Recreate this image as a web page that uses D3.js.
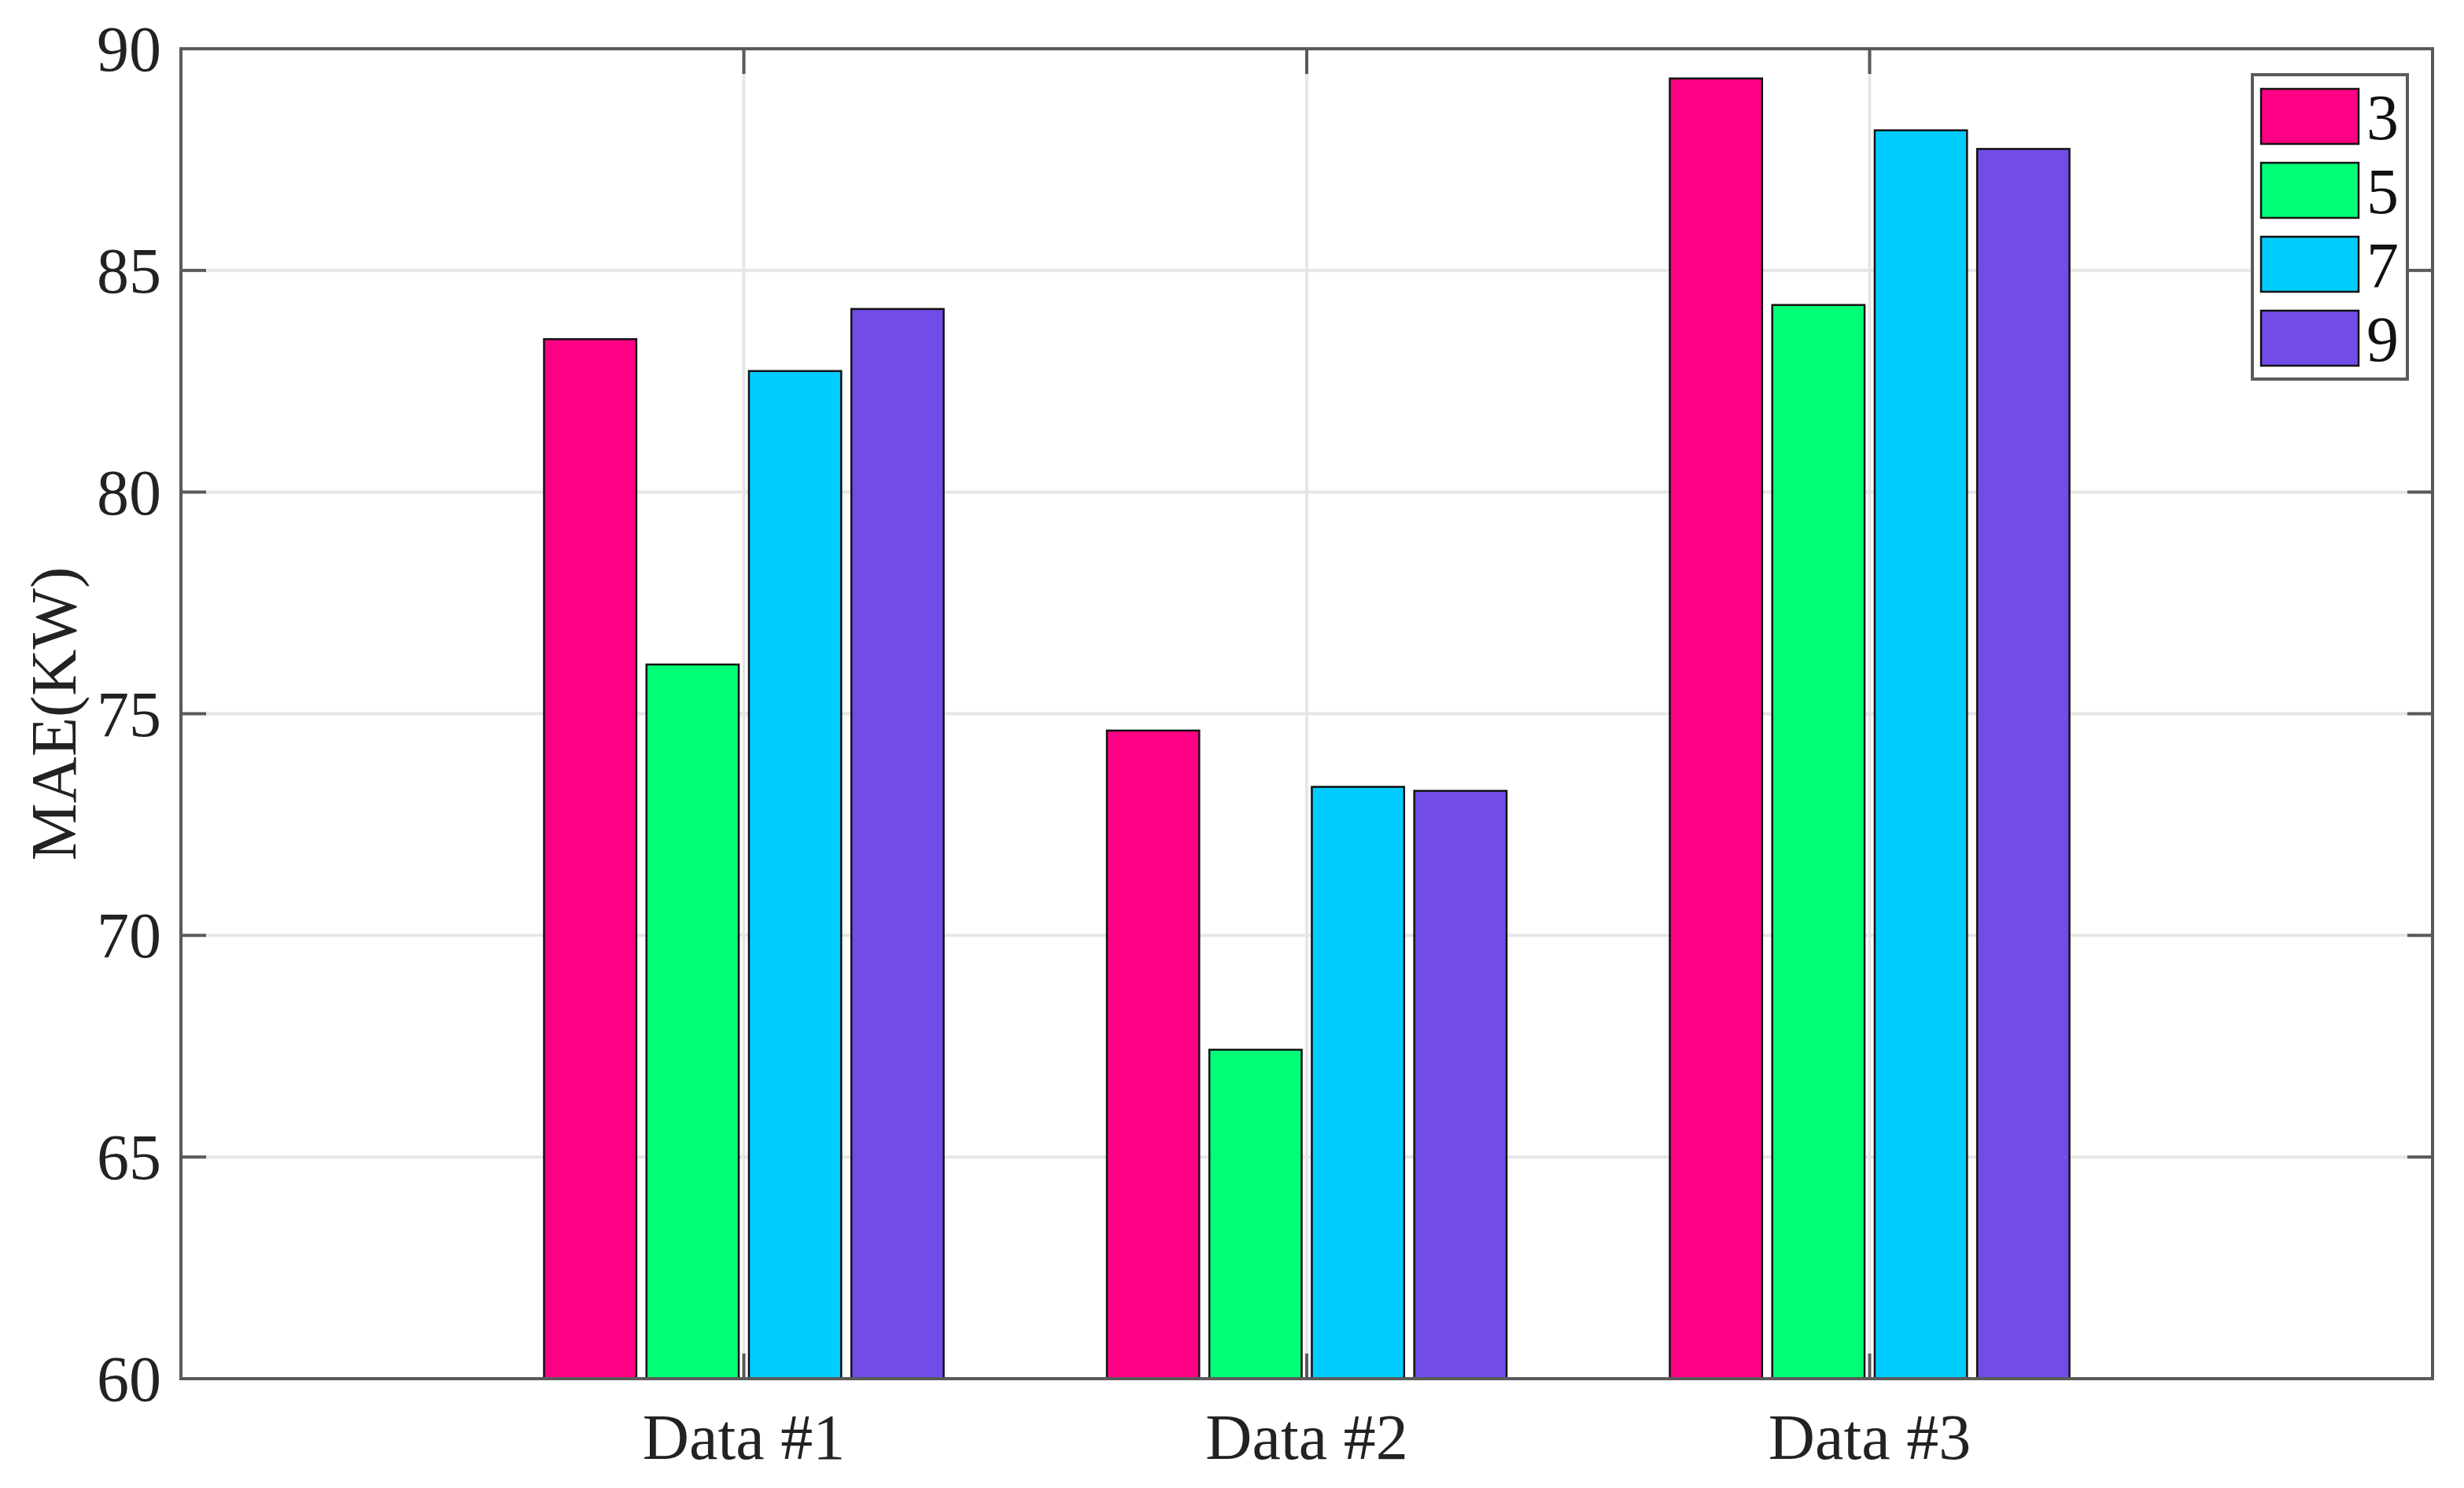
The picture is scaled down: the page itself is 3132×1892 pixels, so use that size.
<!DOCTYPE html>
<html>
<head>
<meta charset="utf-8">
<script src="https://cdn.jsdelivr.net/npm/d3@7"></script>
<style>
  html, body { margin: 0; padding: 0; background: #fff; }
  svg { display: block; }
</style>
</head>
<body>
<script>
// Data
const categories = ["Data #1", "Data #2", "Data #3"];
const seriesNames = ["3", "5", "7", "9"];
const seriesColors = ["#FF0084", "#00FF76", "#00CCFF", "#714CE9"];
const values3 = [83.45, 74.62, 89.33];
const values5 = [76.11, 67.42, 84.22];
const values7 = [82.73, 73.35, 88.16];
const values9 = [84.13, 73.26, 87.74];
const yTicks = [60, 65, 70, 75, 80, 85, 90];

const series = [values3, values5, values7, values9];

const width = 3132;
const height = 1892;
const margin = { left: 230, right: 40, top: 62, bottom: 139 };

const svg = d3.select("body")
    .append("svg")
    .attr("width", width)
    .attr("height", height)
    .attr("viewBox", `0 0 ${width} ${height}`);

const x = d3.scaleLinear()
    .domain([0, categories.length + 1])
    .range([margin.left, width - margin.right]);

const y = d3.scaleLinear()
    .domain([60, 90])
    .range([height - margin.bottom, margin.top]);

const font = "'Liberation Serif', 'Times New Roman', serif";
const axisColor = "#5a5a5a";
const tickLen = 32;

// Grid lines
const grid = svg.append("g").attr("class", "grid");
grid.selectAll("line.hgrid")
    .data(yTicks.slice(1, -1))
    .enter()
    .append("line")
    .attr("x1", x.range()[0])
    .attr("x2", x.range()[1])
    .attr("y1", d => y(d))
    .attr("y2", d => y(d))
    .style("stroke", "#e6e6e6")
    .style("stroke-width", 4);

grid.selectAll("line.vgrid")
    .data(categories)
    .enter()
    .append("line")
    .attr("x1", (d, i) => x(i + 1))
    .attr("x2", (d, i) => x(i + 1))
    .attr("y1", y.range()[0])
    .attr("y2", y.range()[1])
    .style("stroke", "#e6e6e6")
    .style("stroke-width", 4);

// Bars
const slot = 0.182;
const barW = 0.164;
const bars = svg.append("g").attr("class", "bars");
series.forEach((vals, j) => {
    bars.selectAll(`rect.s${j}`)
        .data(vals)
        .enter()
        .append("rect")
        .attr("x", (d, i) => x(i + 1 + (j - 1.5) * slot - barW / 2))
        .attr("width", x(barW) - x(0))
        .attr("y", d => y(d))
        .attr("height", d => y(60) - y(d))
        .attr("fill", seriesColors[j])
        .attr("stroke", "#111")
        .attr("stroke-width", 2.5);
});

// Ticks (inward, on all four sides)
const ticks = svg.append("g").attr("class", "ticks")
    .style("stroke", axisColor)
    .style("stroke-width", 4);

yTicks.forEach(t => {
    ticks.append("line")
        .attr("x1", x.range()[0]).attr("x2", x.range()[0] + tickLen)
        .attr("y1", y(t)).attr("y2", y(t));
    ticks.append("line")
        .attr("x1", x.range()[1]).attr("x2", x.range()[1] - tickLen)
        .attr("y1", y(t)).attr("y2", y(t));
});
categories.forEach((c, i) => {
    ticks.append("line")
        .attr("x1", x(i + 1)).attr("x2", x(i + 1))
        .attr("y1", y.range()[0]).attr("y2", y.range()[0] - tickLen);
    ticks.append("line")
        .attr("x1", x(i + 1)).attr("x2", x(i + 1))
        .attr("y1", y.range()[1]).attr("y2", y.range()[1] + tickLen);
});

// Axes box
svg.append("rect")
    .attr("x", x.range()[0])
    .attr("y", y.range()[1])
    .attr("width", x.range()[1] - x.range()[0])
    .attr("height", y.range()[0] - y.range()[1])
    .attr("fill", "none")
    .style("stroke", axisColor)
    .style("stroke-width", 4);

// Tick labels
svg.append("g")
    .selectAll("text")
    .data(yTicks)
    .enter()
    .append("text")
    .attr("x", x.range()[0] - 25)
    .attr("y", d => y(d) + 28)
    .attr("text-anchor", "end")
    .style("font-family", font)
    .style("font-size", "82px")
    .style("fill", "#222")
    .text(d => d);

svg.append("g")
    .selectAll("text")
    .data(categories)
    .enter()
    .append("text")
    .attr("x", (d, i) => x(i + 1))
    .attr("y", 1855)
    .attr("text-anchor", "middle")
    .style("font-family", font)
    .style("font-size", "82px")
    .style("fill", "#222")
    .text(d => d);

// Y axis label
svg.append("text")
    .attr("transform", `translate(96, ${(y.range()[0] + y.range()[1]) / 2}) rotate(-90)`)
    .attr("text-anchor", "middle")
    .style("font-family", font)
    .style("font-size", "82px")
    .style("fill", "#222")
    .text("MAE(KW)");

// Legend
const legend = svg.append("g").attr("class", "legend");
legend.append("rect")
    .attr("x", 2863)
    .attr("y", 95)
    .attr("width", 197)
    .attr("height", 387)
    .attr("fill", "#fff")
    .style("stroke", "#5a5a5a")
    .style("stroke-width", 4);

const rowY = d3.scalePoint()
    .domain(seriesNames)
    .range([148, 430]);

legend.selectAll("rect.swatch")
    .data(seriesNames)
    .enter()
    .append("rect")
    .attr("class", "swatch")
    .attr("x", 2874)
    .attr("y", d => rowY(d) - 35)
    .attr("width", 124)
    .attr("height", 70)
    .attr("fill", (d, i) => seriesColors[i])
    .attr("stroke", "#111")
    .attr("stroke-width", 2.5);

legend.selectAll("text")
    .data(seriesNames)
    .enter()
    .append("text")
    .attr("x", 3008)
    .attr("y", d => rowY(d) + 29)
    .style("font-family", font)
    .style("font-size", "82px")
    .style("fill", "#111")
    .text(d => d);
</script>
</body>
</html>
